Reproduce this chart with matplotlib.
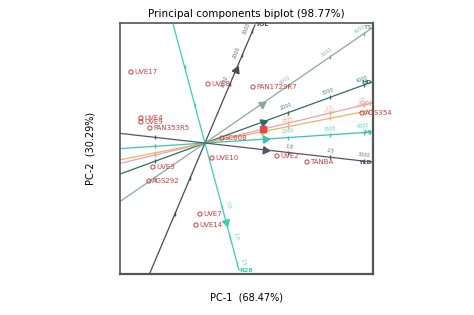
import matplotlib.pyplot as plt
import numpy as np

# trait vectors (end of biplot axis), arrow spots and colours
traits = ['TOL', 'R28', 'TS', 'HD', 'GDJ', '', 'MJ', 'YLD']
trait_x = [1.00, 0.68, 3.34, 3.34, 3.34, 3.34, 3.34, 3.34]
trait_y = [2.36, -2.54, 2.30, 1.22, 0.80, 0.66, 0.22, -0.38]
arrow_t = [0.62, 0.62, 0.34, 0.35, 0.35, 0.35, 0.36, 0.36]
trait_col = ['#4a4a55', '#3ccfae', '#86ab9c', '#2f6c66', '#eaa3ad',
             '#e9b368', '#3cc2b4', '#55556a']
tick_vals = [['1000', '2000', '3000'], ['0.5', '1.0', '1.5'], ['4000', '5000', '6000'],
             ['2000', '3000', '4000'], ['1.5', '2.0', '2.5'], ['2000', '3000', '4000'],
             ['2500', '3500', '4500'], ['1.8', '2.5', '3000']]

# genotypes
geno = ['UVE17', 'UVE8', 'PAN1729R7', 'UVE4', 'UVE9', 'PAN353R5', 'SC608', 'UVE10',
        'UVE2', 'TANBA', 'UVE3', 'AGS292', 'UVE7', 'UVE14', 'AGS354']
gx = [-1.48, 0.06, 0.96, -1.28, -1.28, -1.10, 0.34, 0.14,
      1.44, 2.04, -1.04, -1.12, -0.10, -0.18, 3.14]
gy = [1.42, 1.18, 1.12, 0.50, 0.42, 0.30, 0.10, -0.30,
      -0.26, -0.38, -0.48, -0.76, -1.42, -1.64, 0.60]

fig = plt.figure(figsize=(4.74, 3.15), dpi=100)
ax = fig.add_axes([0.253, 0.130, 0.534, 0.797])

for i, name in enumerate(traits):
    x1, y1 = trait_x[i], trait_y[i]
    c = trait_col[i]
    # axis line through origin both ways
    ax.plot([-3 * x1, x1], [-3 * y1, y1], color=c, lw=0.9, zorder=2)
    ang = np.degrees(np.arctan2(y1, x1))
    if ang > 90:
        ang -= 180
    if ang < -90:
        ang += 180
    # arrow
    ax.plot(arrow_t[i] * x1, arrow_t[i] * y1, marker=(3, 0, np.degrees(np.arctan2(y1, x1)) - 90),
            ms=6, color=c, zorder=4, ls='none')
    # ticks along the axis
    for k, t in enumerate([0.5, 0.75, 0.95]):
        px, py = t * x1, t * y1
        ax.plot(px, py, marker='|', ms=2.5, color=c, zorder=3)
        nx, ny = -y1, x1
        nn = np.hypot(nx, ny)
        ax.text(px + 0.12 * nx / nn, py + 0.12 * ny / nn, tick_vals[i][k], fontsize=3.5,
                color=c, rotation=ang, ha='center', va='center', alpha=0.85)
    for k, t in enumerate([-0.3, -0.6]):
        px, py = t * x1, t * y1
        ax.plot(px, py, marker='|', ms=2.5, color=c, zorder=3)
    # end label
    if name:
        ax.text(x1, y1, name, fontsize=4.5, color=c, ha='right' if x1 > 3 else 'left',
                va='center', fontweight='bold')

# red square near origin
ax.plot(1.16, 0.28, marker='s', ms=4, color='#e04a4a', zorder=5)

ax.scatter(gx, gy, s=9, facecolors='none', edgecolors='#cc3b3f', lw=0.7, zorder=5)
for i, g in enumerate(geno):
    ax.text(gx[i] + 0.06, gy[i], g, fontsize=5, color='#cc3b3f', va='center', zorder=6)

ax.set_xlim(-1.7, 3.36)
ax.set_ylim(-2.62, 2.40)
ax.set_xticks([])
ax.set_yticks([])
for s in ax.spines.values():
    s.set_color('#555555')
    s.set_linewidth(1.2)
ax.spines['bottom'].set_linewidth(1.6)
ax.spines['right'].set_linewidth(1.6)

ax.set_title('Principal components biplot (98.77%)', fontsize=7.5, pad=4)
fig.text(0.52, 0.054, 'PC-1  (68.47%)', fontsize=7, ha='center', va='center')
fig.text(0.19, 0.53, 'PC-2  (30.29%)', fontsize=7, ha='center', va='center', rotation=90)

plt.savefig('out.png', dpi=100)
